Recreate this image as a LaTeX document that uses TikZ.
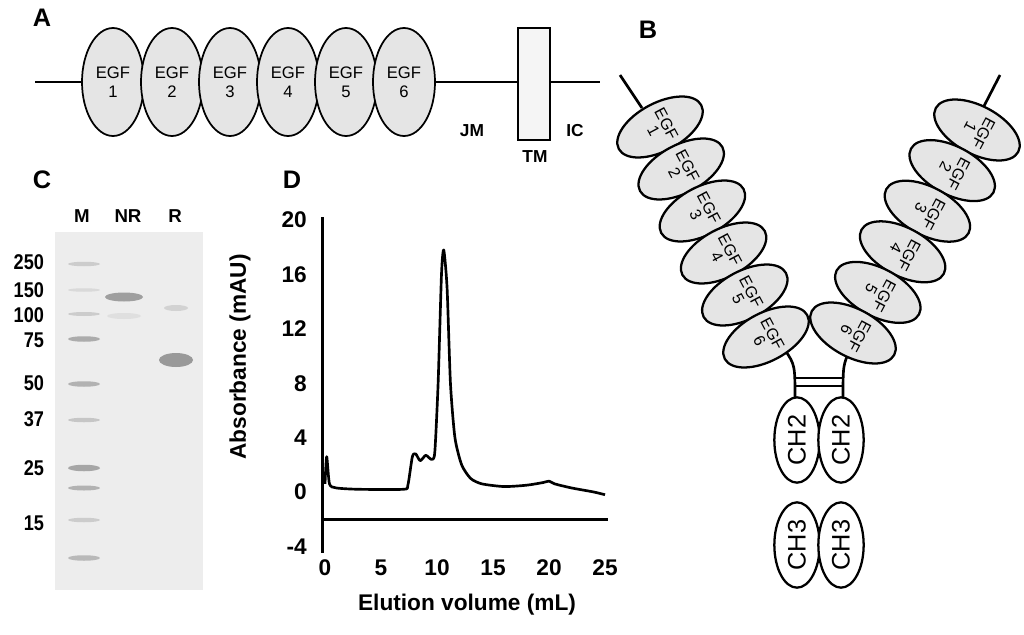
\documentclass[tikz,border=0pt]{standalone}
\usepackage{fontspec}
\setmainfont{Liberation Sans}
\usetikzlibrary{shapes.geometric}
\begin{document}
\begin{tikzpicture}[x=0.75pt,y=-0.75pt,
  lab/.style={font=\fontsize{19}{19}\selectfont\bfseries},
  egfA/.style={ellipse,draw,line width=1.3pt,fill=gray!20,minimum width=46.5pt,minimum height=81pt,inner sep=0pt,align=center,font=\fontsize{12.5}{13}\selectfont},
  egfB/.style={ellipse,draw,line width=1.7pt,fill=gray!20,minimum width=36pt,minimum height=70pt,inner sep=0pt,align=center,font=\fontsize{12}{11}\selectfont},
  chB/.style={ellipse,draw,line width=1.7pt,fill=white,minimum width=64pt,minimum height=34pt,inner sep=0pt,font=\fontsize{19}{19}\selectfont,rotate=90},
  tick/.style={font=\fontsize{17}{17}\selectfont\bfseries},
  gl/.style={font=\fontsize{14}{14}\selectfont\bfseries}]
\useasboundingbox (0,0) rectangle (1024,635);
% Panel A
\node[lab] (la) at (42,18) {A};
\coordinate (a0) at (35,82); \coordinate (a1) at (600,82);
\draw[line width=1.3pt] (a0) -- (a1);
\foreach \i/\x in {1/113,2/172,3/230,4/288,5/346,6/404}
  \node[egfA] (e\i) at (\x,82) {EGF\\[1pt]\i};
\node[draw,line width=1pt,fill=gray!8,minimum width=24pt,minimum height=84pt,inner sep=0pt] (tm) at (534,84) {};
\node[font=\fontsize{13}{13}\selectfont\bfseries] (jm) at (472,131) {JM};
\node[font=\fontsize{13}{13}\selectfont\bfseries] (tml) at (535,157) {TM};
\node[font=\fontsize{13}{13}\selectfont\bfseries] (ic) at (575,131) {IC};
% Panel B
\node[lab] (lb) at (648,30) {B};
\coordinate (sl) at (620,75); \coordinate (sr) at (1000,75);
\draw[line width=2pt] (sl) -- (642,108);
\draw[line width=2pt] (sr) -- (983,108);
\draw[line width=2pt] (785,350) .. controls (795,365) .. (795,400);
\draw[line width=2pt] (850,350) .. controls (843,365) .. (843,400);
\draw[line width=1.6pt] (795,378) -- (843,378) (795,386) -- (843,386);
\foreach \i in {1,...,6}{
  \node[egfB,rotate=-62] (l\i) at ({660+21.2*(\i-1)},{127+42*(\i-1)}) {EGF\\\i};
  \node[egfB,rotate=-118] (r\i) at ({977-24.8*(\i-1)},{130+40.6*(\i-1)}) {EGF\\\i};
}
\node[chB] (c2l) at (797,440) {CH2};
\node[chB] (c2r) at (841,440) {CH2};
\node[chB] (c3l) at (797,545) {CH3};
\node[chB] (c3r) at (841,545) {CH3};
% Panel C
\node[lab] (lc) at (42,180) {C};
\node[fill=gray!14,minimum width=111pt,minimum height=268pt,inner sep=0pt] (gel) at (129,411) {};
\node[font=\fontsize{14}{14}\selectfont\bfseries\rmfamily] (m) at (82,216) {M};
\node[gl] (nr) at (128,216) {NR};
\node[gl] (rr) at (175,216) {R};
\foreach \y/\w/\s in {264/0.9/40,290/0.7/30,314/0.8/40,339/1.1/65,384/1.1/60,420/0.9/45,468/1.3/70,488/1/60,520/0.9/40,558/1.1/55}
  \fill[gray!\s] (84,\y) ellipse (16 and {2.5*\w});
\fill[gray!75] (124,297) ellipse (19 and 4.5);
\fill[gray!25] (124,316) ellipse (17 and 3);
\fill[gray!35] (176,308) ellipse (12 and 3);
\fill[gray!80] (176,360) ellipse (17 and 7);
\foreach \y/\t in {262/250,290/150,315/100,340/75,383/50,419/37,468/25,523/15}
  \node[font=\fontsize{16}{16}\selectfont\bfseries,anchor=east,xscale=0.85] (g\t) at (48,\y) {\t};
% Panel D
\node[lab] (ld) at (292,180) {D};
\begin{scope}[shift={(325,492)},x=8.4pt,y=10.2pt]
  \coordinate (o1) at (-0.25,20.2); \coordinate (o2) at (-0.25,-4.5);
  \coordinate (h1) at (-0.25,-2); \coordinate (h2) at (25.3,-2);
  \draw[line width=2.2pt] (o1) -- (o2);
  \draw[line width=2.2pt] (h1) -- (h2);
  \foreach \v in {20,16,12,8,4,0,-4}
    \node[tick,anchor=east] (yt\v) at (-1.2,\v) {\v};
  \foreach \v in {0,5,10,15,20,25}
    \node[tick] (xt\v) at (\v,-5.6) {\v};
  \draw[line width=2pt,line join=round] plot[smooth,tension=0.4] coordinates {(0,0.6)(0.15,2.6)(0.4,0.6)(1,0.3)(3,0.2)(7,0.2)(7.4,0.5)(7.8,2.6)(8.1,2.8)(8.5,2.3)(9,2.7)(9.5,2.4)(9.8,2.9)(10.1,8)(10.4,16)(10.6,17.8)(10.9,15)(11.2,8)(11.6,4)(12.2,2)(13,1)(14,0.6)(16,0.4)(18,0.5)(19.5,0.7)(20,0.8)(20.5,0.6)(22,0.3)(24,0)(25,-0.2)};
\end{scope}
\node[tick,rotate=90] (yl) at (240,357) {Absorbance (mAU)};
\node[tick] (xl) at (467,605) {Elution volume (mL)};
\end{tikzpicture}
\end{document}
